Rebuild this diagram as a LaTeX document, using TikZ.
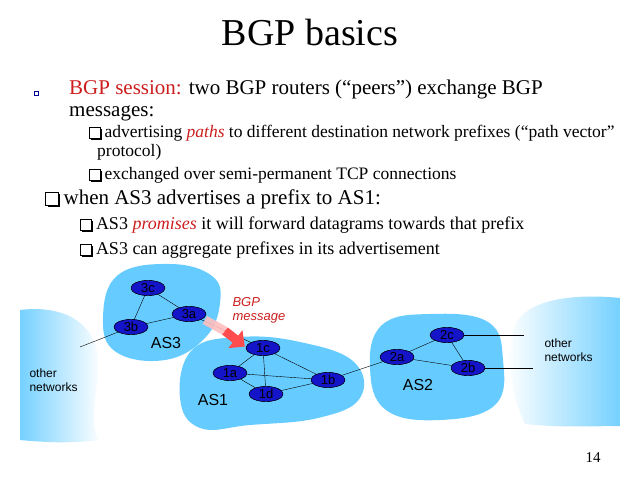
\documentclass[tikz,border=0pt]{standalone}
\usepackage{fontspec}
\setmainfont{Liberation Serif}
\newfontfamily\arial{Liberation Sans}
\usetikzlibrary{arrows.meta,shapes.geometric}
\definecolor{asblue}{RGB}{102,204,255}
\definecolor{rtblue}{RGB}{20,20,200}
\definecolor{msgred}{RGB}{204,30,30}
\newcommand{\qbul}{\tikz[baseline=0pt]{\fill[black] (0.1em,-0.1em) rectangle (0.7em,0.5em);
  \draw[fill=white,line width=0.4pt] (0,0) rectangle (0.6em,0.6em);}}
\newcommand{\sbul}{\tikz[baseline=0pt]{\draw[fill=white,draw=blue!60!black,line width=0.8pt] (0,0) rectangle (0.4em,0.4em);}}
\begin{document}
\begin{tikzpicture}[x=1pt,y=-1pt]
 \tikzset{router/.style={draw=black, ellipse, fill=rtblue, minimum width=34pt,
   minimum height=15pt, inner sep=0pt, font=\arial\fontsize{13}{13}\selectfont},
   link/.style={black, thin},
   body/.style={anchor=base west, inner sep=0pt}}
  \useasboundingbox (0,0) rectangle (638,478);
  % title and bullets
  \node[font=\fontsize{38}{38}\selectfont] (title) at (310,33) {BGP basics};
  \node[body] (b1) at (34,95) {\sbul};
  \node[body, font=\fontsize{21}{21}\selectfont] (t1) at (69,95) {\textcolor{msgred}{BGP session:} two BGP routers (“peers”) exchange BGP};
  \node[body, font=\fontsize{21}{21}\selectfont] (t1b) at (69,117) {messages:};
  \node[body, font=\fontsize{17.5}{17.5}\selectfont] (t2) at (89,138) {\qbul\,advertising \textcolor{msgred}{\textit{paths}} to different destination network prefixes (“path vector”};
  \node[body, font=\fontsize{17.5}{17.5}\selectfont] (t2b) at (97,157) {protocol)};
  \node[body, font=\fontsize{17.5}{17.5}\selectfont] (t3) at (89,180) {\qbul\,exchanged over semi-permanent TCP connections};
  \node[body, font=\fontsize{21}{21}\selectfont] (t4) at (45,205) {\qbul\,when AS3 advertises a prefix to AS1:};
  \node[body, font=\fontsize{18}{18}\selectfont] (t5) at (80,230) {\qbul\,AS3 \textcolor{msgred}{\textit{promises}} it will forward datagrams towards that prefix};
  \node[body, font=\fontsize{18}{18}\selectfont] (t6) at (80,255) {\qbul\,AS3 can aggregate prefixes in its advertisement};
  \node[font=\fontsize{15}{15}\selectfont] (page) at (593,458) {14};
  % other networks
  \shade[left color=asblue!90, right color=white]
    (20,310) .. controls (60,305) and (90,320) .. (97,350)
    .. controls (102,385) and (86,420) .. (99,440)
    .. controls (70,444) and (40,442) .. (20,440) -- cycle;
  \shade[left color=white, right color=asblue!90]
    (620,298) .. controls (570,293) and (522,300) .. (513,330)
    .. controls (506,362) and (512,398) .. (525,424)
    .. controls (560,428) and (600,426) .. (620,426) -- cycle;
  % AS clouds
  \fill[asblue] plot[smooth cycle, tension=0.7] coordinates
    {(118,275) (170,264) (212,276) (220,303) (205,338) (165,360) (116,352) (103,318)};
  \fill[asblue] plot[smooth cycle, tension=0.7] coordinates
    {(192,350) (240,337) (300,342) (354,362) (360,398) (318,418) (250,425) (200,428) (180,398)};
  \fill[asblue] plot[smooth cycle, tension=0.7] coordinates
    {(382,325) (430,314) (488,322) (503,360) (495,405) (440,420) (386,410) (370,368)};
  % routers
  \coordinate (p3c) at (148,288);
  \coordinate (p3a) at (189,314);
  \coordinate (p3b) at (131,327);
  \coordinate (p1c) at (263,348);
  \coordinate (p1a) at (230,373);
  \coordinate (p1d) at (266,394);
  \coordinate (p1b) at (328,380);
  \coordinate (p2a) at (397,357);
  \coordinate (p2c) at (447,335);
  \coordinate (p2b) at (468,368);
  \foreach \r in {3c,3a,3b,1c,1a,1d,1b,2a,2c,2b}
    \node[router] (r\r) at (p\r) {\phantom{\r}};
  \coordinate (ol) at (80,347);
  \coordinate (or1) at (524,335);
  \coordinate (or2) at (533,368);
  % links
  \draw[link] (r3c) -- (r3a);
  \draw[link] (r3c) -- (r3b);
  \draw[link] (r3b) -- (r3a);
  \draw[link] (r3b) -- (ol);
  \draw[link] (r3a) -- (r1c);
  \draw[link] (r1c) -- (r1a);
  \draw[link] (r1c) -- (r1d);
  \draw[link] (r1c) -- (r1b);
  \draw[link] (r1a) -- (r1b);
  \draw[link] (r1a) -- (r1d);
  \draw[link] (r1d) -- (r1b);
  \draw[link] (r1b) -- (r2a);
  \draw[link] (r2a) -- (r2c);
  \draw[link] (r2a) -- (r2b);
  \draw[link] (r2c) -- (r2b);
  \draw[link] (r2c) -- (or1);
  \draw[link] (r2b) -- (or2);
  % redraw routers over links
  \foreach \r in {3c,3a,3b,1c,1a,1d,1b,2a,2c,2b}
    \node[router] at (p\r) {\r};
  % message arrow
  \coordinate (mstart) at (205,320);
  \coordinate (mmid) at (225,331);
  \draw[line width=9pt, red!25, opacity=0.9] (mstart) -- (mmid);
  \draw[line width=9pt, red!70, -{Triangle[length=12pt,width=22pt]}]
    (mmid) -- ([xshift=-6pt,yshift=-4pt]r1c.north west);
  \node[anchor=west, align=left, text=msgred, font=\arial\itshape\fontsize{13}{14}\selectfont] (msg) at (229,310) {BGP\\message};
  % labels
  \node[font=\arial\fontsize{16}{16}\selectfont] (as3) at (166,343) {AS3};
  \node[font=\arial\fontsize{16}{16}\selectfont] (as1) at (213,400) {AS1};
  \node[font=\arial\fontsize{16}{16}\selectfont] (as2) at (418,385) {AS2};
  \node[anchor=west, align=left, font=\arial\fontsize{12}{14}\selectfont] (onl) at (26,380) {other\\networks};
  \node[anchor=west, align=left, font=\arial\fontsize{12}{14}\selectfont] (onr) at (541,350) {other\\networks};
\end{tikzpicture}
\end{document}
